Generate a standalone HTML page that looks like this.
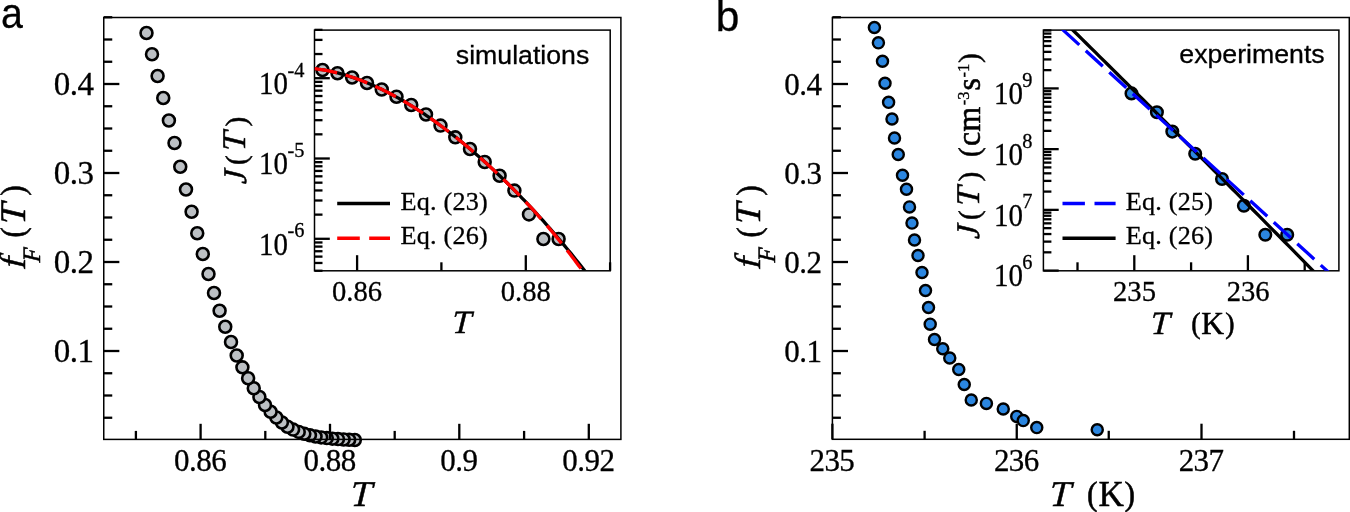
<!DOCTYPE html>
<html><head><meta charset="utf-8"><title>figure</title>
<style>html,body{margin:0;padding:0;background:#fff;}svg{display:block}text{fill:#000}</style></head>
<body><svg width="1350" height="512" viewBox="0 0 1350 512">
<rect width="1350" height="512" fill="#fff"/>
<g>
<circle cx="354.82" cy="440.00" r="5.95" fill="#bcc0c4" stroke="#000" stroke-width="2.6"/>
<circle cx="349.21" cy="439.80" r="5.95" fill="#bcc0c4" stroke="#000" stroke-width="2.6"/>
<circle cx="343.60" cy="439.50" r="5.95" fill="#bcc0c4" stroke="#000" stroke-width="2.6"/>
<circle cx="337.99" cy="439.10" r="5.95" fill="#bcc0c4" stroke="#000" stroke-width="2.6"/>
<circle cx="332.38" cy="438.70" r="5.95" fill="#bcc0c4" stroke="#000" stroke-width="2.6"/>
<circle cx="326.77" cy="438.10" r="5.95" fill="#bcc0c4" stroke="#000" stroke-width="2.6"/>
<circle cx="321.16" cy="437.40" r="5.95" fill="#bcc0c4" stroke="#000" stroke-width="2.6"/>
<circle cx="315.55" cy="436.50" r="5.95" fill="#bcc0c4" stroke="#000" stroke-width="2.6"/>
<circle cx="309.94" cy="435.30" r="5.95" fill="#bcc0c4" stroke="#000" stroke-width="2.6"/>
<circle cx="304.33" cy="433.80" r="5.95" fill="#bcc0c4" stroke="#000" stroke-width="2.6"/>
<circle cx="298.72" cy="431.90" r="5.95" fill="#bcc0c4" stroke="#000" stroke-width="2.6"/>
<circle cx="293.11" cy="429.60" r="5.95" fill="#bcc0c4" stroke="#000" stroke-width="2.6"/>
<circle cx="287.50" cy="426.75" r="5.95" fill="#bcc0c4" stroke="#000" stroke-width="2.6"/>
<circle cx="281.90" cy="422.50" r="5.95" fill="#bcc0c4" stroke="#000" stroke-width="2.6"/>
<circle cx="276.30" cy="417.50" r="5.95" fill="#bcc0c4" stroke="#000" stroke-width="2.6"/>
<circle cx="270.60" cy="411.75" r="5.95" fill="#bcc0c4" stroke="#000" stroke-width="2.6"/>
<circle cx="265.00" cy="405.00" r="5.95" fill="#bcc0c4" stroke="#000" stroke-width="2.6"/>
<circle cx="259.40" cy="397.00" r="5.95" fill="#bcc0c4" stroke="#000" stroke-width="2.6"/>
<circle cx="253.75" cy="388.25" r="5.95" fill="#bcc0c4" stroke="#000" stroke-width="2.6"/>
<circle cx="248.10" cy="378.25" r="5.95" fill="#bcc0c4" stroke="#000" stroke-width="2.6"/>
<circle cx="242.40" cy="367.30" r="5.95" fill="#bcc0c4" stroke="#000" stroke-width="2.6"/>
<circle cx="236.70" cy="355.50" r="5.95" fill="#bcc0c4" stroke="#000" stroke-width="2.6"/>
<circle cx="231.00" cy="342.00" r="5.95" fill="#bcc0c4" stroke="#000" stroke-width="2.6"/>
<circle cx="225.25" cy="326.75" r="5.95" fill="#bcc0c4" stroke="#000" stroke-width="2.6"/>
<circle cx="219.60" cy="310.75" r="5.95" fill="#bcc0c4" stroke="#000" stroke-width="2.6"/>
<circle cx="214.00" cy="293.00" r="5.95" fill="#bcc0c4" stroke="#000" stroke-width="2.6"/>
<circle cx="208.50" cy="274.00" r="5.95" fill="#bcc0c4" stroke="#000" stroke-width="2.6"/>
<circle cx="202.80" cy="254.00" r="5.95" fill="#bcc0c4" stroke="#000" stroke-width="2.6"/>
<circle cx="197.25" cy="233.25" r="5.95" fill="#bcc0c4" stroke="#000" stroke-width="2.6"/>
<circle cx="191.60" cy="211.75" r="5.95" fill="#bcc0c4" stroke="#000" stroke-width="2.6"/>
<circle cx="186.00" cy="189.50" r="5.95" fill="#bcc0c4" stroke="#000" stroke-width="2.6"/>
<circle cx="180.25" cy="166.75" r="5.95" fill="#bcc0c4" stroke="#000" stroke-width="2.6"/>
<circle cx="174.50" cy="143.00" r="5.95" fill="#bcc0c4" stroke="#000" stroke-width="2.6"/>
<circle cx="168.90" cy="120.50" r="5.95" fill="#bcc0c4" stroke="#000" stroke-width="2.6"/>
<circle cx="163.25" cy="98.00" r="5.95" fill="#bcc0c4" stroke="#000" stroke-width="2.6"/>
<circle cx="157.60" cy="76.00" r="5.95" fill="#bcc0c4" stroke="#000" stroke-width="2.6"/>
<circle cx="152.00" cy="54.25" r="5.95" fill="#bcc0c4" stroke="#000" stroke-width="2.6"/>
<circle cx="146.50" cy="33.00" r="5.95" fill="#bcc0c4" stroke="#000" stroke-width="2.6"/>
</g>
<rect x="103.75" y="17.50" width="517.15" height="421.90" fill="none" stroke="#000" stroke-width="1.5"/>
<line x1="103.75" y1="417.75" x2="112.25" y2="417.75" stroke="#000" stroke-width="2.3" />
<line x1="103.75" y1="395.50" x2="112.25" y2="395.50" stroke="#000" stroke-width="2.3" />
<line x1="103.75" y1="373.25" x2="112.25" y2="373.25" stroke="#000" stroke-width="2.3" />
<line x1="103.75" y1="351.00" x2="119.35" y2="351.00" stroke="#000" stroke-width="2.3" />
<line x1="103.75" y1="328.75" x2="112.25" y2="328.75" stroke="#000" stroke-width="2.3" />
<line x1="103.75" y1="306.50" x2="112.25" y2="306.50" stroke="#000" stroke-width="2.3" />
<line x1="103.75" y1="284.25" x2="112.25" y2="284.25" stroke="#000" stroke-width="2.3" />
<line x1="103.75" y1="262.00" x2="119.35" y2="262.00" stroke="#000" stroke-width="2.3" />
<line x1="103.75" y1="239.75" x2="112.25" y2="239.75" stroke="#000" stroke-width="2.3" />
<line x1="103.75" y1="217.50" x2="112.25" y2="217.50" stroke="#000" stroke-width="2.3" />
<line x1="103.75" y1="195.25" x2="112.25" y2="195.25" stroke="#000" stroke-width="2.3" />
<line x1="103.75" y1="173.00" x2="119.35" y2="173.00" stroke="#000" stroke-width="2.3" />
<line x1="103.75" y1="150.75" x2="112.25" y2="150.75" stroke="#000" stroke-width="2.3" />
<line x1="103.75" y1="128.50" x2="112.25" y2="128.50" stroke="#000" stroke-width="2.3" />
<line x1="103.75" y1="106.25" x2="112.25" y2="106.25" stroke="#000" stroke-width="2.3" />
<line x1="103.75" y1="84.00" x2="119.35" y2="84.00" stroke="#000" stroke-width="2.3" />
<line x1="103.75" y1="61.75" x2="112.25" y2="61.75" stroke="#000" stroke-width="2.3" />
<line x1="103.75" y1="39.50" x2="112.25" y2="39.50" stroke="#000" stroke-width="2.3" />
<line x1="103.75" y1="17.25" x2="112.25" y2="17.25" stroke="#000" stroke-width="2.3" />
<text transform="translate(93.45,362.30) scale(1,1)" font-size="33" text-anchor="end" font-family='"Liberation Serif", "DejaVu Serif", serif' stroke="#000" stroke-width="0.3" letter-spacing="-0.5">0.1</text>
<text transform="translate(93.45,273.30) scale(1,1)" font-size="33" text-anchor="end" font-family='"Liberation Serif", "DejaVu Serif", serif' stroke="#000" stroke-width="0.3" letter-spacing="-0.5">0.2</text>
<text transform="translate(93.45,184.30) scale(1,1)" font-size="33" text-anchor="end" font-family='"Liberation Serif", "DejaVu Serif", serif' stroke="#000" stroke-width="0.3" letter-spacing="-0.5">0.3</text>
<text transform="translate(93.45,95.30) scale(1,1)" font-size="33" text-anchor="end" font-family='"Liberation Serif", "DejaVu Serif", serif' stroke="#000" stroke-width="0.3" letter-spacing="-0.5">0.4</text>
<line x1="200.60" y1="439.40" x2="200.60" y2="423.80" stroke="#000" stroke-width="2.3" />
<line x1="330.00" y1="439.40" x2="330.00" y2="423.80" stroke="#000" stroke-width="2.3" />
<line x1="459.30" y1="439.40" x2="459.30" y2="423.80" stroke="#000" stroke-width="2.3" />
<line x1="588.80" y1="439.40" x2="588.80" y2="423.80" stroke="#000" stroke-width="2.3" />
<line x1="135.90" y1="439.40" x2="135.90" y2="430.90" stroke="#000" stroke-width="2.3" />
<line x1="265.30" y1="439.40" x2="265.30" y2="430.90" stroke="#000" stroke-width="2.3" />
<line x1="394.70" y1="439.40" x2="394.70" y2="430.90" stroke="#000" stroke-width="2.3" />
<line x1="524.10" y1="439.40" x2="524.10" y2="430.90" stroke="#000" stroke-width="2.3" />
<text transform="translate(200.10,471.00) scale(1,1)" font-size="31" text-anchor="middle" font-family='"Liberation Serif", "DejaVu Serif", serif' stroke="#000" stroke-width="0.3" letter-spacing="-0.5">0.86</text>
<text transform="translate(329.50,471.00) scale(1,1)" font-size="31" text-anchor="middle" font-family='"Liberation Serif", "DejaVu Serif", serif' stroke="#000" stroke-width="0.3" letter-spacing="-0.5">0.88</text>
<text transform="translate(458.80,471.00) scale(1,1)" font-size="31" text-anchor="middle" font-family='"Liberation Serif", "DejaVu Serif", serif' stroke="#000" stroke-width="0.3" letter-spacing="-0.5">0.9</text>
<text transform="translate(588.30,471.00) scale(1,1)" font-size="31" text-anchor="middle" font-family='"Liberation Serif", "DejaVu Serif", serif' stroke="#000" stroke-width="0.3" letter-spacing="-0.5">0.92</text>
<g>
<circle cx="874.40" cy="27.50" r="5.55" fill="#2b86e0" stroke="#000" stroke-width="2.4"/>
<circle cx="878.40" cy="42.80" r="5.55" fill="#2b86e0" stroke="#000" stroke-width="2.4"/>
<circle cx="882.50" cy="61.25" r="5.55" fill="#2b86e0" stroke="#000" stroke-width="2.4"/>
<circle cx="885.00" cy="83.25" r="5.55" fill="#2b86e0" stroke="#000" stroke-width="2.4"/>
<circle cx="888.60" cy="102.30" r="5.55" fill="#2b86e0" stroke="#000" stroke-width="2.4"/>
<circle cx="892.00" cy="119.00" r="5.55" fill="#2b86e0" stroke="#000" stroke-width="2.4"/>
<circle cx="894.50" cy="138.00" r="5.55" fill="#2b86e0" stroke="#000" stroke-width="2.4"/>
<circle cx="898.25" cy="154.50" r="5.55" fill="#2b86e0" stroke="#000" stroke-width="2.4"/>
<circle cx="902.50" cy="175.25" r="5.55" fill="#2b86e0" stroke="#000" stroke-width="2.4"/>
<circle cx="906.50" cy="189.25" r="5.55" fill="#2b86e0" stroke="#000" stroke-width="2.4"/>
<circle cx="909.50" cy="206.90" r="5.55" fill="#2b86e0" stroke="#000" stroke-width="2.4"/>
<circle cx="912.00" cy="223.10" r="5.55" fill="#2b86e0" stroke="#000" stroke-width="2.4"/>
<circle cx="914.50" cy="240.00" r="5.55" fill="#2b86e0" stroke="#000" stroke-width="2.4"/>
<circle cx="918.00" cy="255.50" r="5.55" fill="#2b86e0" stroke="#000" stroke-width="2.4"/>
<circle cx="922.00" cy="272.50" r="5.55" fill="#2b86e0" stroke="#000" stroke-width="2.4"/>
<circle cx="925.50" cy="290.50" r="5.55" fill="#2b86e0" stroke="#000" stroke-width="2.4"/>
<circle cx="928.50" cy="307.50" r="5.55" fill="#2b86e0" stroke="#000" stroke-width="2.4"/>
<circle cx="930.20" cy="324.20" r="5.55" fill="#2b86e0" stroke="#000" stroke-width="2.4"/>
<circle cx="934.50" cy="339.50" r="5.55" fill="#2b86e0" stroke="#000" stroke-width="2.4"/>
<circle cx="942.75" cy="348.75" r="5.55" fill="#2b86e0" stroke="#000" stroke-width="2.4"/>
<circle cx="949.75" cy="358.00" r="5.55" fill="#2b86e0" stroke="#000" stroke-width="2.4"/>
<circle cx="958.75" cy="369.50" r="5.55" fill="#2b86e0" stroke="#000" stroke-width="2.4"/>
<circle cx="964.25" cy="384.50" r="5.55" fill="#2b86e0" stroke="#000" stroke-width="2.4"/>
<circle cx="971.25" cy="400.00" r="5.55" fill="#2b86e0" stroke="#000" stroke-width="2.4"/>
<circle cx="986.40" cy="403.40" r="5.55" fill="#2b86e0" stroke="#000" stroke-width="2.4"/>
<circle cx="1003.25" cy="409.00" r="5.55" fill="#2b86e0" stroke="#000" stroke-width="2.4"/>
<circle cx="1016.75" cy="416.40" r="5.55" fill="#2b86e0" stroke="#000" stroke-width="2.4"/>
<circle cx="1023.25" cy="420.60" r="5.55" fill="#2b86e0" stroke="#000" stroke-width="2.4"/>
<circle cx="1036.75" cy="427.60" r="5.55" fill="#2b86e0" stroke="#000" stroke-width="2.4"/>
<circle cx="1097.25" cy="429.75" r="5.55" fill="#2b86e0" stroke="#000" stroke-width="2.4"/>
</g>
<rect x="832.40" y="17.50" width="516.90" height="421.80" fill="none" stroke="#000" stroke-width="1.5"/>
<line x1="832.40" y1="417.75" x2="840.90" y2="417.75" stroke="#000" stroke-width="2.3" />
<line x1="832.40" y1="395.50" x2="840.90" y2="395.50" stroke="#000" stroke-width="2.3" />
<line x1="832.40" y1="373.25" x2="840.90" y2="373.25" stroke="#000" stroke-width="2.3" />
<line x1="832.40" y1="351.00" x2="848.00" y2="351.00" stroke="#000" stroke-width="2.3" />
<line x1="832.40" y1="328.75" x2="840.90" y2="328.75" stroke="#000" stroke-width="2.3" />
<line x1="832.40" y1="306.50" x2="840.90" y2="306.50" stroke="#000" stroke-width="2.3" />
<line x1="832.40" y1="284.25" x2="840.90" y2="284.25" stroke="#000" stroke-width="2.3" />
<line x1="832.40" y1="262.00" x2="848.00" y2="262.00" stroke="#000" stroke-width="2.3" />
<line x1="832.40" y1="239.75" x2="840.90" y2="239.75" stroke="#000" stroke-width="2.3" />
<line x1="832.40" y1="217.50" x2="840.90" y2="217.50" stroke="#000" stroke-width="2.3" />
<line x1="832.40" y1="195.25" x2="840.90" y2="195.25" stroke="#000" stroke-width="2.3" />
<line x1="832.40" y1="173.00" x2="848.00" y2="173.00" stroke="#000" stroke-width="2.3" />
<line x1="832.40" y1="150.75" x2="840.90" y2="150.75" stroke="#000" stroke-width="2.3" />
<line x1="832.40" y1="128.50" x2="840.90" y2="128.50" stroke="#000" stroke-width="2.3" />
<line x1="832.40" y1="106.25" x2="840.90" y2="106.25" stroke="#000" stroke-width="2.3" />
<line x1="832.40" y1="84.00" x2="848.00" y2="84.00" stroke="#000" stroke-width="2.3" />
<line x1="832.40" y1="61.75" x2="840.90" y2="61.75" stroke="#000" stroke-width="2.3" />
<line x1="832.40" y1="39.50" x2="840.90" y2="39.50" stroke="#000" stroke-width="2.3" />
<line x1="832.40" y1="17.25" x2="840.90" y2="17.25" stroke="#000" stroke-width="2.3" />
<text transform="translate(821.40,361.70) scale(1,1)" font-size="31" text-anchor="end" font-family='"Liberation Serif", "DejaVu Serif", serif' stroke="#000" stroke-width="0.3" letter-spacing="-0.5">0.1</text>
<text transform="translate(821.40,272.70) scale(1,1)" font-size="31" text-anchor="end" font-family='"Liberation Serif", "DejaVu Serif", serif' stroke="#000" stroke-width="0.3" letter-spacing="-0.5">0.2</text>
<text transform="translate(821.40,183.70) scale(1,1)" font-size="31" text-anchor="end" font-family='"Liberation Serif", "DejaVu Serif", serif' stroke="#000" stroke-width="0.3" letter-spacing="-0.5">0.3</text>
<text transform="translate(821.40,94.70) scale(1,1)" font-size="31" text-anchor="end" font-family='"Liberation Serif", "DejaVu Serif", serif' stroke="#000" stroke-width="0.3" letter-spacing="-0.5">0.4</text>
<line x1="832.40" y1="439.30" x2="832.40" y2="423.70" stroke="#000" stroke-width="2.3" />
<line x1="1016.75" y1="439.30" x2="1016.75" y2="423.70" stroke="#000" stroke-width="2.3" />
<line x1="1201.50" y1="439.30" x2="1201.50" y2="423.70" stroke="#000" stroke-width="2.3" />
<line x1="924.60" y1="439.30" x2="924.60" y2="430.80" stroke="#000" stroke-width="2.3" />
<line x1="1108.75" y1="439.30" x2="1108.75" y2="430.80" stroke="#000" stroke-width="2.3" />
<line x1="1294.00" y1="439.30" x2="1294.00" y2="430.80" stroke="#000" stroke-width="2.3" />
<text transform="translate(831.90,471.00) scale(1,1)" font-size="31" text-anchor="middle" font-family='"Liberation Serif", "DejaVu Serif", serif' stroke="#000" stroke-width="0.3" letter-spacing="-0.6">235</text>
<text transform="translate(1016.25,471.00) scale(1,1)" font-size="31" text-anchor="middle" font-family='"Liberation Serif", "DejaVu Serif", serif' stroke="#000" stroke-width="0.3" letter-spacing="-0.6">236</text>
<text transform="translate(1201.00,471.00) scale(1,1)" font-size="31" text-anchor="middle" font-family='"Liberation Serif", "DejaVu Serif", serif' stroke="#000" stroke-width="0.3" letter-spacing="-0.6">237</text>
<text transform="translate(0.90,28.20) scale(0.92,1)" font-size="42.8" text-anchor="start" font-family='"Liberation Sans", "DejaVu Sans", sans-serif' stroke="#000" stroke-width="0.3" >a</text>
<text transform="translate(715.70,31.00) scale(0.99,1)" font-size="42.8" text-anchor="start" font-family='"Liberation Sans", "DejaVu Sans", sans-serif' stroke="#000" stroke-width="0.3" >b</text>
<text transform="translate(348.60,506.30) scale(0.97,1) skewX(-14)" font-size="36.3" font-family='"Liberation Serif", "DejaVu Serif", serif' stroke="#000" stroke-width="0.55" >T</text>
<text transform="translate(1047.40,506.30) scale(0.97,1) skewX(-14)" font-size="36.3" font-family='"Liberation Serif", "DejaVu Serif", serif' stroke="#000" stroke-width="0.55" >T</text>
<text transform="translate(1086.90,505.30) scale(0.97,1)" font-size="32.7" text-anchor="start" font-family='"Liberation Serif", "DejaVu Serif", serif' stroke="#000" stroke-width="0.55" >(</text>
<text transform="translate(1098.40,506.30) scale(0.97,1)" font-size="36.3" text-anchor="start" font-family='"Liberation Serif", "DejaVu Serif", serif' stroke="#000" stroke-width="0.55" >K</text>
<text transform="translate(1124.60,505.30) scale(0.97,1)" font-size="32.7" text-anchor="start" font-family='"Liberation Serif", "DejaVu Serif", serif' stroke="#000" stroke-width="0.55" >)</text>
<g transform="translate(24.60,270.50) rotate(-90)">
<text transform="translate(0.00,0.00) scale(0.97,1) skewX(-14)" font-size="36.5" font-family='"Liberation Serif", "DejaVu Serif", serif' stroke="#000" stroke-width="0.55" >f</text>
<text transform="translate(7.00,15.10) scale(0.97,1) skewX(-14)" font-size="25" font-family='"Liberation Serif", "DejaVu Serif", serif' stroke="#000" stroke-width="0.55" >F</text>
<text transform="translate(32.80,-0.60) scale(0.97,1)" font-size="32.7" text-anchor="start" font-family='"Liberation Serif", "DejaVu Serif", serif' stroke="#000" stroke-width="0.55" >(</text>
<text transform="translate(44.00,0.00) scale(0.97,1) skewX(-14)" font-size="36" font-family='"Liberation Serif", "DejaVu Serif", serif' stroke="#000" stroke-width="0.55" >T</text>
<text transform="translate(74.80,-0.60) scale(0.97,1)" font-size="32.7" text-anchor="start" font-family='"Liberation Serif", "DejaVu Serif", serif' stroke="#000" stroke-width="0.55" >)</text>
</g>
<g transform="translate(760.20,270.50) rotate(-90)">
<text transform="translate(0.00,0.00) scale(0.97,1) skewX(-14)" font-size="36.5" font-family='"Liberation Serif", "DejaVu Serif", serif' stroke="#000" stroke-width="0.55" >f</text>
<text transform="translate(7.00,15.10) scale(0.97,1) skewX(-14)" font-size="25" font-family='"Liberation Serif", "DejaVu Serif", serif' stroke="#000" stroke-width="0.55" >F</text>
<text transform="translate(32.80,-0.60) scale(0.97,1)" font-size="32.7" text-anchor="start" font-family='"Liberation Serif", "DejaVu Serif", serif' stroke="#000" stroke-width="0.55" >(</text>
<text transform="translate(44.00,0.00) scale(0.97,1) skewX(-14)" font-size="36" font-family='"Liberation Serif", "DejaVu Serif", serif' stroke="#000" stroke-width="0.55" >T</text>
<text transform="translate(74.80,-0.60) scale(0.97,1)" font-size="32.7" text-anchor="start" font-family='"Liberation Serif", "DejaVu Serif", serif' stroke="#000" stroke-width="0.55" >)</text>
</g>
<rect x="314.5" y="30.1" width="295.70" height="240.70" fill="#fff"/>
<clipPath id="cA"><rect x="314.5" y="30.1" width="295.70" height="240.70"/></clipPath>
<rect x="314.50" y="30.10" width="295.70" height="240.70" fill="none" stroke="#000" stroke-width="1.5"/>
<circle cx="322.50" cy="70.00" r="5.95" fill="#bcc0c4" stroke="#000" stroke-width="2.6"/>
<circle cx="337.50" cy="73.25" r="5.95" fill="#bcc0c4" stroke="#000" stroke-width="2.6"/>
<circle cx="352.10" cy="77.50" r="5.95" fill="#bcc0c4" stroke="#000" stroke-width="2.6"/>
<circle cx="367.00" cy="83.00" r="5.95" fill="#bcc0c4" stroke="#000" stroke-width="2.6"/>
<circle cx="381.75" cy="89.50" r="5.95" fill="#bcc0c4" stroke="#000" stroke-width="2.6"/>
<circle cx="396.50" cy="96.75" r="5.95" fill="#bcc0c4" stroke="#000" stroke-width="2.6"/>
<circle cx="411.25" cy="105.00" r="5.95" fill="#bcc0c4" stroke="#000" stroke-width="2.6"/>
<circle cx="426.00" cy="114.50" r="5.95" fill="#bcc0c4" stroke="#000" stroke-width="2.6"/>
<circle cx="440.50" cy="125.60" r="5.95" fill="#bcc0c4" stroke="#000" stroke-width="2.6"/>
<circle cx="455.30" cy="137.30" r="5.95" fill="#bcc0c4" stroke="#000" stroke-width="2.6"/>
<circle cx="470.00" cy="149.00" r="5.95" fill="#bcc0c4" stroke="#000" stroke-width="2.6"/>
<circle cx="484.70" cy="162.00" r="5.95" fill="#bcc0c4" stroke="#000" stroke-width="2.6"/>
<circle cx="499.60" cy="175.75" r="5.95" fill="#bcc0c4" stroke="#000" stroke-width="2.6"/>
<circle cx="514.40" cy="190.60" r="5.95" fill="#bcc0c4" stroke="#000" stroke-width="2.6"/>
<circle cx="529.00" cy="214.40" r="5.95" fill="#bcc0c4" stroke="#000" stroke-width="2.6"/>
<circle cx="543.40" cy="239.00" r="5.95" fill="#bcc0c4" stroke="#000" stroke-width="2.6"/>
<circle cx="558.60" cy="239.00" r="5.95" fill="#bcc0c4" stroke="#000" stroke-width="2.6"/>
<path d="M312.00,68.45 L314.34,68.69 L316.67,68.96 L319.01,69.27 L321.34,69.61 L323.68,69.99 L326.02,70.40 L328.35,70.85 L330.69,71.33 L333.03,71.84 L335.36,72.38 L337.70,72.96 L340.03,73.57 L342.37,74.20 L344.71,74.87 L347.04,75.58 L349.38,76.31 L351.71,77.07 L354.05,77.86 L356.39,78.68 L358.72,79.53 L361.06,80.40 L363.39,81.31 L365.73,82.24 L368.07,83.21 L370.40,84.20 L372.74,85.21 L375.08,86.26 L377.41,87.33 L379.75,88.42 L382.08,89.55 L384.42,90.70 L386.76,91.87 L389.09,93.07 L391.43,94.30 L393.76,95.55 L396.10,96.83 L398.44,98.13 L400.77,99.45 L403.11,100.80 L405.45,102.17 L407.78,103.57 L410.12,104.99 L412.45,106.43 L414.79,107.90 L417.13,109.39 L419.46,110.90 L421.80,112.44 L424.13,113.99 L426.47,115.57 L428.81,117.17 L431.14,118.80 L433.48,120.44 L435.82,122.11 L438.15,123.80 L440.49,125.51 L442.82,127.24 L445.16,129.00 L447.50,130.77 L449.83,132.57 L452.17,134.38 L454.50,136.22 L456.84,138.08 L459.18,139.95 L461.51,141.85 L463.85,143.77 L466.18,145.71 L468.52,147.67 L470.86,149.65 L473.19,151.65 L475.53,153.67 L477.87,155.71 L480.20,157.77 L482.54,159.85 L484.87,161.95 L487.21,164.07 L489.55,166.21 L491.88,168.37 L494.22,170.55 L496.55,172.75 L498.89,174.97 L501.23,177.21 L503.56,179.47 L505.90,181.75 L508.24,184.05 L510.57,186.37 L512.91,188.71 L515.24,191.07 L517.58,193.45 L519.92,195.85 L522.25,198.27 L524.59,200.71 L526.92,203.17 L529.26,205.65 L531.60,208.15 L533.93,210.68 L536.27,213.22 L538.61,215.78 L540.94,218.36 L543.28,220.97 L545.61,223.59 L547.95,226.24 L550.29,228.91 L552.62,231.60 L554.96,234.31 L557.29,237.04 L559.63,239.79 L561.97,242.57 L564.30,245.37 L566.64,248.19 L568.97,251.03 L571.31,253.89 L573.65,256.78 L575.98,259.69 L578.32,262.62 L580.66,265.58 L582.99,268.55 L585.33,271.56 L587.66,274.58 L590.00,277.63" fill="none" stroke="#000" stroke-width="3.3" clip-path="url(#cA)"/>
<path d="M314.50,68.70 L316.82,68.98 L319.13,69.29 L321.45,69.63 L323.76,70.00 L326.08,70.41 L328.39,70.86 L330.71,71.33 L333.02,71.84 L335.34,72.38 L337.65,72.95 L339.97,73.55 L342.28,74.18 L344.60,74.84 L346.91,75.54 L349.23,76.26 L351.54,77.01 L353.86,77.79 L356.17,78.60 L358.49,79.44 L360.80,80.31 L363.12,81.20 L365.43,82.12 L367.75,83.07 L370.06,84.05 L372.38,85.05 L374.69,86.08 L377.01,87.14 L379.32,88.22 L381.64,89.33 L383.95,90.47 L386.27,91.62 L388.58,92.81 L390.90,94.02 L393.21,95.25 L395.53,96.51 L397.84,97.79 L400.16,99.10 L402.47,100.43 L404.79,101.78 L407.11,103.16 L409.42,104.56 L411.74,105.99 L414.05,107.43 L416.37,108.90 L418.68,110.39 L421.00,111.91 L423.31,113.44 L425.63,115.00 L427.94,116.58 L430.26,118.18 L432.57,119.80 L434.89,121.45 L437.20,123.11 L439.52,124.80 L441.83,126.51 L444.15,128.23 L446.46,129.98 L448.78,131.75 L451.09,133.54 L453.41,135.35 L455.72,137.18 L458.04,139.04 L460.35,140.91 L462.67,142.80 L464.98,144.71 L467.30,146.64 L469.61,148.59 L471.93,150.57 L474.24,152.56 L476.56,154.57 L478.87,156.60 L481.19,158.65 L483.50,160.72 L485.82,162.81 L488.13,164.92 L490.45,167.05 L492.76,169.20 L495.08,171.36 L497.39,173.55 L499.71,175.76 L502.03,177.98 L504.34,180.23 L506.66,182.50 L508.97,184.78 L511.29,187.09 L513.60,189.41 L515.92,191.75 L518.23,194.12 L520.55,196.50 L522.86,198.91 L525.16,201.33 L527.46,203.77 L529.75,206.24 L532.04,208.72 L534.32,211.22 L536.60,213.75 L538.87,216.29 L541.13,218.85 L543.39,221.44 L545.64,224.04 L547.88,226.67 L550.12,229.32 L552.35,231.99 L554.58,234.67 L556.80,237.39 L559.02,240.12 L561.23,242.87 L563.43,245.64 L565.63,248.44 L567.82,251.26 L570.01,254.10 L572.19,256.96 L574.36,259.85 L576.53,262.75 L578.74,265.68 L581.05,268.63 L583.37,271.61 L585.68,274.61 L588.00,277.63" fill="none" stroke="#f00" stroke-width="3.3" stroke-dasharray="23 8.8" clip-path="url(#cA)"/>
<line x1="314.50" y1="270.75" x2="322.50" y2="270.75" stroke="#000" stroke-width="2.3" />
<line x1="314.50" y1="262.97" x2="322.50" y2="262.97" stroke="#000" stroke-width="2.3" />
<line x1="314.50" y1="256.61" x2="322.50" y2="256.61" stroke="#000" stroke-width="2.3" />
<line x1="314.50" y1="251.24" x2="322.50" y2="251.24" stroke="#000" stroke-width="2.3" />
<line x1="314.50" y1="246.58" x2="322.50" y2="246.58" stroke="#000" stroke-width="2.3" />
<line x1="314.50" y1="242.47" x2="322.50" y2="242.47" stroke="#000" stroke-width="2.3" />
<line x1="314.50" y1="238.80" x2="329.80" y2="238.80" stroke="#000" stroke-width="2.3" />
<line x1="314.50" y1="214.63" x2="322.50" y2="214.63" stroke="#000" stroke-width="2.3" />
<line x1="314.50" y1="200.49" x2="322.50" y2="200.49" stroke="#000" stroke-width="2.3" />
<line x1="314.50" y1="190.45" x2="322.50" y2="190.45" stroke="#000" stroke-width="2.3" />
<line x1="314.50" y1="182.67" x2="322.50" y2="182.67" stroke="#000" stroke-width="2.3" />
<line x1="314.50" y1="176.31" x2="322.50" y2="176.31" stroke="#000" stroke-width="2.3" />
<line x1="314.50" y1="170.94" x2="322.50" y2="170.94" stroke="#000" stroke-width="2.3" />
<line x1="314.50" y1="166.28" x2="322.50" y2="166.28" stroke="#000" stroke-width="2.3" />
<line x1="314.50" y1="162.17" x2="322.50" y2="162.17" stroke="#000" stroke-width="2.3" />
<line x1="314.50" y1="158.50" x2="329.80" y2="158.50" stroke="#000" stroke-width="2.3" />
<line x1="314.50" y1="134.33" x2="322.50" y2="134.33" stroke="#000" stroke-width="2.3" />
<line x1="314.50" y1="120.19" x2="322.50" y2="120.19" stroke="#000" stroke-width="2.3" />
<line x1="314.50" y1="110.15" x2="322.50" y2="110.15" stroke="#000" stroke-width="2.3" />
<line x1="314.50" y1="102.37" x2="322.50" y2="102.37" stroke="#000" stroke-width="2.3" />
<line x1="314.50" y1="96.01" x2="322.50" y2="96.01" stroke="#000" stroke-width="2.3" />
<line x1="314.50" y1="90.64" x2="322.50" y2="90.64" stroke="#000" stroke-width="2.3" />
<line x1="314.50" y1="85.98" x2="322.50" y2="85.98" stroke="#000" stroke-width="2.3" />
<line x1="314.50" y1="81.87" x2="322.50" y2="81.87" stroke="#000" stroke-width="2.3" />
<line x1="314.50" y1="78.20" x2="329.80" y2="78.20" stroke="#000" stroke-width="2.3" />
<line x1="314.50" y1="54.03" x2="322.50" y2="54.03" stroke="#000" stroke-width="2.3" />
<line x1="314.50" y1="39.89" x2="322.50" y2="39.89" stroke="#000" stroke-width="2.3" />
<line x1="314.50" y1="29.85" x2="322.50" y2="29.85" stroke="#000" stroke-width="2.3" />
<line x1="357.10" y1="270.80" x2="357.10" y2="255.20" stroke="#000" stroke-width="2.3" />
<line x1="525.80" y1="270.80" x2="525.80" y2="255.20" stroke="#000" stroke-width="2.3" />
<line x1="441.40" y1="270.80" x2="441.40" y2="262.30" stroke="#000" stroke-width="2.3" />
<line x1="610.10" y1="270.80" x2="610.10" y2="262.30" stroke="#000" stroke-width="2.3" />
<text transform="translate(288.00,93.90) scale(0.92,1)" font-size="31.5" text-anchor="end" font-family='"Liberation Serif", "DejaVu Serif", serif' stroke="#000" stroke-width="0.3" >10</text>
<text transform="translate(287.40,76.60) scale(0.97,1)" font-size="21" text-anchor="start" font-family='"Liberation Serif", "DejaVu Serif", serif' stroke="#000" stroke-width="0.3" >-4</text>
<text transform="translate(288.00,174.20) scale(0.92,1)" font-size="31.5" text-anchor="end" font-family='"Liberation Serif", "DejaVu Serif", serif' stroke="#000" stroke-width="0.3" >10</text>
<text transform="translate(287.40,156.90) scale(0.97,1)" font-size="21" text-anchor="start" font-family='"Liberation Serif", "DejaVu Serif", serif' stroke="#000" stroke-width="0.3" >-5</text>
<text transform="translate(288.00,254.50) scale(0.92,1)" font-size="31.5" text-anchor="end" font-family='"Liberation Serif", "DejaVu Serif", serif' stroke="#000" stroke-width="0.3" >10</text>
<text transform="translate(287.40,237.20) scale(0.97,1)" font-size="21" text-anchor="start" font-family='"Liberation Serif", "DejaVu Serif", serif' stroke="#000" stroke-width="0.3" >-6</text>
<text transform="translate(357.10,301.00) scale(0.97,1)" font-size="29.5" text-anchor="middle" font-family='"Liberation Serif", "DejaVu Serif", serif' stroke="#000" stroke-width="0.3" >0.86</text>
<text transform="translate(525.80,301.00) scale(0.97,1)" font-size="29.5" text-anchor="middle" font-family='"Liberation Serif", "DejaVu Serif", serif' stroke="#000" stroke-width="0.3" >0.88</text>
<text transform="translate(450.30,332.60) scale(0.97,1) skewX(-14)" font-size="32.5" font-family='"Liberation Serif", "DejaVu Serif", serif' stroke="#000" stroke-width="0.55" >T</text>
<g transform="translate(245.80,184.50) rotate(-90)">
<text transform="translate(0.00,0.00) scale(0.97,1) skewX(-14)" font-size="33" font-family='"Liberation Serif", "DejaVu Serif", serif' stroke="#000" stroke-width="0.55" >J</text>
<text transform="translate(19.40,-0.20) scale(0.97,1)" font-size="30.2" text-anchor="start" font-family='"Liberation Serif", "DejaVu Serif", serif' stroke="#000" stroke-width="0.55" >(</text>
<text transform="translate(31.50,-0.50) scale(0.97,1) skewX(-14)" font-size="33" font-family='"Liberation Serif", "DejaVu Serif", serif' stroke="#000" stroke-width="0.55" >T</text>
<text transform="translate(57.90,-0.20) scale(0.97,1)" font-size="30.2" text-anchor="start" font-family='"Liberation Serif", "DejaVu Serif", serif' stroke="#000" stroke-width="0.55" >)</text>
</g>
<text transform="translate(455.80,63.60) scale(1.0,1)" font-size="26.7" text-anchor="start" font-family='"Liberation Sans", "DejaVu Sans", sans-serif' stroke="#000" stroke-width="0.3" >simulations</text>
<line x1="337.20" y1="203.50" x2="390.00" y2="203.50" stroke="#000" stroke-width="3.5" />
<line x1="337.20" y1="238.20" x2="390.00" y2="238.20" stroke="#f00" stroke-width="3.5" stroke-dasharray="22.6 9.4"/>
<text transform="translate(400.50,209.70) scale(1.0,1)" font-size="26.2" text-anchor="start" font-family='"Liberation Serif", "DejaVu Serif", serif' stroke="#000" stroke-width="0.3" letter-spacing="0.2">Eq. (23)</text>
<text transform="translate(400.50,244.20) scale(1.0,1)" font-size="26.2" text-anchor="start" font-family='"Liberation Serif", "DejaVu Serif", serif' stroke="#000" stroke-width="0.3" letter-spacing="0.2">Eq. (26)</text>
<rect x="1043.4" y="30.1" width="295.50" height="240.70" fill="#fff"/>
<clipPath id="cB"><rect x="1043.4" y="30.1" width="295.50" height="240.70"/></clipPath>
<rect x="1043.40" y="30.10" width="295.50" height="240.70" fill="none" stroke="#000" stroke-width="1.5"/>
<circle cx="1131.50" cy="93.40" r="5.8" fill="#2b86e0" stroke="#000" stroke-width="2.5"/>
<circle cx="1156.90" cy="112.30" r="5.8" fill="#2b86e0" stroke="#000" stroke-width="2.5"/>
<circle cx="1172.30" cy="131.60" r="5.8" fill="#2b86e0" stroke="#000" stroke-width="2.5"/>
<circle cx="1195.20" cy="153.80" r="5.8" fill="#2b86e0" stroke="#000" stroke-width="2.5"/>
<circle cx="1222.00" cy="179.00" r="5.8" fill="#2b86e0" stroke="#000" stroke-width="2.5"/>
<circle cx="1243.90" cy="205.70" r="5.8" fill="#2b86e0" stroke="#000" stroke-width="2.5"/>
<circle cx="1265.30" cy="234.80" r="5.8" fill="#2b86e0" stroke="#000" stroke-width="2.5"/>
<circle cx="1287.20" cy="234.80" r="5.8" fill="#2b86e0" stroke="#000" stroke-width="2.5"/>
<path d="M1060.00,17.45 L1064.41,21.78 L1068.81,26.12 L1073.22,30.46 L1077.63,34.80 L1082.03,39.15 L1086.44,43.50 L1090.85,47.85 L1095.25,52.20 L1099.66,56.56 L1104.07,60.91 L1108.47,65.28 L1112.88,69.64 L1117.29,74.01 L1121.69,78.38 L1126.10,82.75 L1130.51,87.12 L1134.92,91.50 L1139.32,95.88 L1143.73,100.27 L1148.14,104.65 L1152.54,109.04 L1156.95,113.43 L1161.36,117.83 L1165.76,122.22 L1170.17,126.62 L1174.58,131.02 L1178.98,135.43 L1183.39,139.84 L1187.80,144.25 L1192.20,148.66 L1196.61,153.08 L1201.02,157.50 L1205.42,161.92 L1209.83,166.34 L1214.24,170.77 L1218.64,175.20 L1223.05,179.63 L1227.46,184.06 L1231.86,188.50 L1236.27,192.94 L1240.68,197.39 L1245.08,201.83 L1249.49,206.28 L1253.90,210.73 L1258.31,215.18 L1262.71,219.64 L1267.12,224.10 L1271.53,228.56 L1275.93,233.03 L1280.34,237.50 L1284.75,241.97 L1289.15,246.44 L1293.56,250.91 L1297.97,255.39 L1302.37,259.87 L1306.78,264.36 L1311.19,268.84 L1315.59,273.33 L1320.00,277.83" fill="none" stroke="#000" stroke-width="3.3" clip-path="url(#cB)"/>
<path d="M1038.81,7.96 L1335.00,278.09" fill="none" stroke="#00f" stroke-width="3.3" stroke-dasharray="23 8.8" clip-path="url(#cB)"/>
<line x1="1043.40" y1="270.60" x2="1058.70" y2="270.60" stroke="#000" stroke-width="2.3" />
<line x1="1043.40" y1="252.32" x2="1051.40" y2="252.32" stroke="#000" stroke-width="2.3" />
<line x1="1043.40" y1="241.62" x2="1051.40" y2="241.62" stroke="#000" stroke-width="2.3" />
<line x1="1043.40" y1="234.04" x2="1051.40" y2="234.04" stroke="#000" stroke-width="2.3" />
<line x1="1043.40" y1="228.15" x2="1051.40" y2="228.15" stroke="#000" stroke-width="2.3" />
<line x1="1043.40" y1="223.34" x2="1051.40" y2="223.34" stroke="#000" stroke-width="2.3" />
<line x1="1043.40" y1="219.28" x2="1051.40" y2="219.28" stroke="#000" stroke-width="2.3" />
<line x1="1043.40" y1="215.76" x2="1051.40" y2="215.76" stroke="#000" stroke-width="2.3" />
<line x1="1043.40" y1="212.65" x2="1051.40" y2="212.65" stroke="#000" stroke-width="2.3" />
<line x1="1043.40" y1="209.87" x2="1058.70" y2="209.87" stroke="#000" stroke-width="2.3" />
<line x1="1043.40" y1="191.59" x2="1051.40" y2="191.59" stroke="#000" stroke-width="2.3" />
<line x1="1043.40" y1="180.89" x2="1051.40" y2="180.89" stroke="#000" stroke-width="2.3" />
<line x1="1043.40" y1="173.31" x2="1051.40" y2="173.31" stroke="#000" stroke-width="2.3" />
<line x1="1043.40" y1="167.42" x2="1051.40" y2="167.42" stroke="#000" stroke-width="2.3" />
<line x1="1043.40" y1="162.61" x2="1051.40" y2="162.61" stroke="#000" stroke-width="2.3" />
<line x1="1043.40" y1="158.55" x2="1051.40" y2="158.55" stroke="#000" stroke-width="2.3" />
<line x1="1043.40" y1="155.03" x2="1051.40" y2="155.03" stroke="#000" stroke-width="2.3" />
<line x1="1043.40" y1="151.92" x2="1051.40" y2="151.92" stroke="#000" stroke-width="2.3" />
<line x1="1043.40" y1="149.14" x2="1058.70" y2="149.14" stroke="#000" stroke-width="2.3" />
<line x1="1043.40" y1="130.86" x2="1051.40" y2="130.86" stroke="#000" stroke-width="2.3" />
<line x1="1043.40" y1="120.16" x2="1051.40" y2="120.16" stroke="#000" stroke-width="2.3" />
<line x1="1043.40" y1="112.58" x2="1051.40" y2="112.58" stroke="#000" stroke-width="2.3" />
<line x1="1043.40" y1="106.69" x2="1051.40" y2="106.69" stroke="#000" stroke-width="2.3" />
<line x1="1043.40" y1="101.88" x2="1051.40" y2="101.88" stroke="#000" stroke-width="2.3" />
<line x1="1043.40" y1="97.82" x2="1051.40" y2="97.82" stroke="#000" stroke-width="2.3" />
<line x1="1043.40" y1="94.30" x2="1051.40" y2="94.30" stroke="#000" stroke-width="2.3" />
<line x1="1043.40" y1="91.19" x2="1051.40" y2="91.19" stroke="#000" stroke-width="2.3" />
<line x1="1043.40" y1="88.41" x2="1058.70" y2="88.41" stroke="#000" stroke-width="2.3" />
<line x1="1043.40" y1="70.13" x2="1051.40" y2="70.13" stroke="#000" stroke-width="2.3" />
<line x1="1043.40" y1="59.43" x2="1051.40" y2="59.43" stroke="#000" stroke-width="2.3" />
<line x1="1043.40" y1="51.85" x2="1051.40" y2="51.85" stroke="#000" stroke-width="2.3" />
<line x1="1043.40" y1="45.96" x2="1051.40" y2="45.96" stroke="#000" stroke-width="2.3" />
<line x1="1043.40" y1="41.15" x2="1051.40" y2="41.15" stroke="#000" stroke-width="2.3" />
<line x1="1043.40" y1="37.09" x2="1051.40" y2="37.09" stroke="#000" stroke-width="2.3" />
<line x1="1043.40" y1="33.57" x2="1051.40" y2="33.57" stroke="#000" stroke-width="2.3" />
<line x1="1043.40" y1="30.46" x2="1051.40" y2="30.46" stroke="#000" stroke-width="2.3" />
<line x1="1134.30" y1="270.80" x2="1134.30" y2="255.20" stroke="#000" stroke-width="2.3" />
<line x1="1247.90" y1="270.80" x2="1247.90" y2="255.20" stroke="#000" stroke-width="2.3" />
<line x1="1077.50" y1="270.80" x2="1077.50" y2="262.30" stroke="#000" stroke-width="2.3" />
<line x1="1191.10" y1="270.80" x2="1191.10" y2="262.30" stroke="#000" stroke-width="2.3" />
<line x1="1304.70" y1="270.80" x2="1304.70" y2="262.30" stroke="#000" stroke-width="2.3" />
<text transform="translate(1022.90,104.11) scale(0.92,1)" font-size="31.5" text-anchor="end" font-family='"Liberation Serif", "DejaVu Serif", serif' stroke="#000" stroke-width="0.3" >10</text>
<text transform="translate(1022.30,86.81) scale(0.97,1)" font-size="21" text-anchor="start" font-family='"Liberation Serif", "DejaVu Serif", serif' stroke="#000" stroke-width="0.3" >9</text>
<text transform="translate(1022.90,164.84) scale(0.92,1)" font-size="31.5" text-anchor="end" font-family='"Liberation Serif", "DejaVu Serif", serif' stroke="#000" stroke-width="0.3" >10</text>
<text transform="translate(1022.30,147.54) scale(0.97,1)" font-size="21" text-anchor="start" font-family='"Liberation Serif", "DejaVu Serif", serif' stroke="#000" stroke-width="0.3" >8</text>
<text transform="translate(1022.90,225.57) scale(0.92,1)" font-size="31.5" text-anchor="end" font-family='"Liberation Serif", "DejaVu Serif", serif' stroke="#000" stroke-width="0.3" >10</text>
<text transform="translate(1022.30,208.27) scale(0.97,1)" font-size="21" text-anchor="start" font-family='"Liberation Serif", "DejaVu Serif", serif' stroke="#000" stroke-width="0.3" >7</text>
<text transform="translate(1022.90,286.30) scale(0.92,1)" font-size="31.5" text-anchor="end" font-family='"Liberation Serif", "DejaVu Serif", serif' stroke="#000" stroke-width="0.3" >10</text>
<text transform="translate(1022.30,269.00) scale(0.97,1)" font-size="21" text-anchor="start" font-family='"Liberation Serif", "DejaVu Serif", serif' stroke="#000" stroke-width="0.3" >6</text>
<text transform="translate(1134.50,301.00) scale(0.97,1)" font-size="29.5" text-anchor="middle" font-family='"Liberation Serif", "DejaVu Serif", serif' stroke="#000" stroke-width="0.3" >235</text>
<text transform="translate(1248.10,301.00) scale(0.97,1)" font-size="29.5" text-anchor="middle" font-family='"Liberation Serif", "DejaVu Serif", serif' stroke="#000" stroke-width="0.3" >236</text>
<text transform="translate(1148.70,333.50) scale(0.97,1) skewX(-14)" font-size="32.5" font-family='"Liberation Serif", "DejaVu Serif", serif' stroke="#000" stroke-width="0.55" >T</text>
<text transform="translate(1191.20,332.70) scale(0.97,1)" font-size="28.8" text-anchor="start" font-family='"Liberation Serif", "DejaVu Serif", serif' stroke="#000" stroke-width="0.55" >(</text>
<text transform="translate(1201.30,333.50) scale(0.97,1)" font-size="32.5" text-anchor="start" font-family='"Liberation Serif", "DejaVu Serif", serif' stroke="#000" stroke-width="0.55" >K</text>
<text transform="translate(1225.20,332.70) scale(0.97,1)" font-size="28.8" text-anchor="start" font-family='"Liberation Serif", "DejaVu Serif", serif' stroke="#000" stroke-width="0.55" >)</text>
<text transform="translate(1179.30,63.30) scale(1.0,1)" font-size="26.7" text-anchor="start" font-family='"Liberation Sans", "DejaVu Sans", sans-serif' stroke="#000" stroke-width="0.3" >experiments</text>
<line x1="1062.50" y1="203.60" x2="1115.60" y2="203.60" stroke="#00f" stroke-width="3.5" stroke-dasharray="22.4 9.6"/>
<line x1="1062.50" y1="238.20" x2="1115.60" y2="238.20" stroke="#000" stroke-width="3.5" />
<text transform="translate(1125.80,209.70) scale(1.0,1)" font-size="26.2" text-anchor="start" font-family='"Liberation Serif", "DejaVu Serif", serif' stroke="#000" stroke-width="0.3" letter-spacing="0.2">Eq. (25)</text>
<text transform="translate(1125.80,244.20) scale(1.0,1)" font-size="26.2" text-anchor="start" font-family='"Liberation Serif", "DejaVu Serif", serif' stroke="#000" stroke-width="0.3" letter-spacing="0.2">Eq. (26)</text>
<g transform="translate(979.30,239.50) rotate(-90)">
<text transform="translate(0.00,0.00) scale(0.97,1) skewX(-14)" font-size="33" font-family='"Liberation Serif", "DejaVu Serif", serif' stroke="#000" stroke-width="0.55" >J</text>
<text transform="translate(19.40,-0.20) scale(0.97,1)" font-size="30.2" text-anchor="start" font-family='"Liberation Serif", "DejaVu Serif", serif' stroke="#000" stroke-width="0.55" >(</text>
<text transform="translate(31.50,-0.50) scale(0.97,1) skewX(-14)" font-size="33" font-family='"Liberation Serif", "DejaVu Serif", serif' stroke="#000" stroke-width="0.55" >T</text>
<text transform="translate(57.90,-0.20) scale(0.97,1)" font-size="30.2" text-anchor="start" font-family='"Liberation Serif", "DejaVu Serif", serif' stroke="#000" stroke-width="0.55" >)</text>
<text transform="translate(82.50,0.00) scale(0.97,1)" font-size="30" text-anchor="start" font-family='"Liberation Serif", "DejaVu Serif", serif' stroke="#000" stroke-width="0.55" >(</text>
<text transform="translate(93.60,0.50) scale(0.97,1)" font-size="33" text-anchor="start" font-family='"Liberation Serif", "DejaVu Serif", serif' stroke="#000" stroke-width="0.55" >cm</text>
<text transform="translate(134.30,-10.30) scale(0.97,1)" font-size="17" text-anchor="start" font-family='"Liberation Serif", "DejaVu Serif", serif' stroke="#000" stroke-width="0.35" >-3</text>
<text transform="translate(148.90,0.50) scale(0.97,1)" font-size="33" text-anchor="start" font-family='"Liberation Serif", "DejaVu Serif", serif' stroke="#000" stroke-width="0.55" >s</text>
<text transform="translate(161.90,-10.30) scale(0.97,1)" font-size="17" text-anchor="start" font-family='"Liberation Serif", "DejaVu Serif", serif' stroke="#000" stroke-width="0.35" >-1</text>
<text transform="translate(176.50,0.00) scale(0.97,1)" font-size="30" text-anchor="start" font-family='"Liberation Serif", "DejaVu Serif", serif' stroke="#000" stroke-width="0.55" >)</text>
</g>
</svg></body></html>
